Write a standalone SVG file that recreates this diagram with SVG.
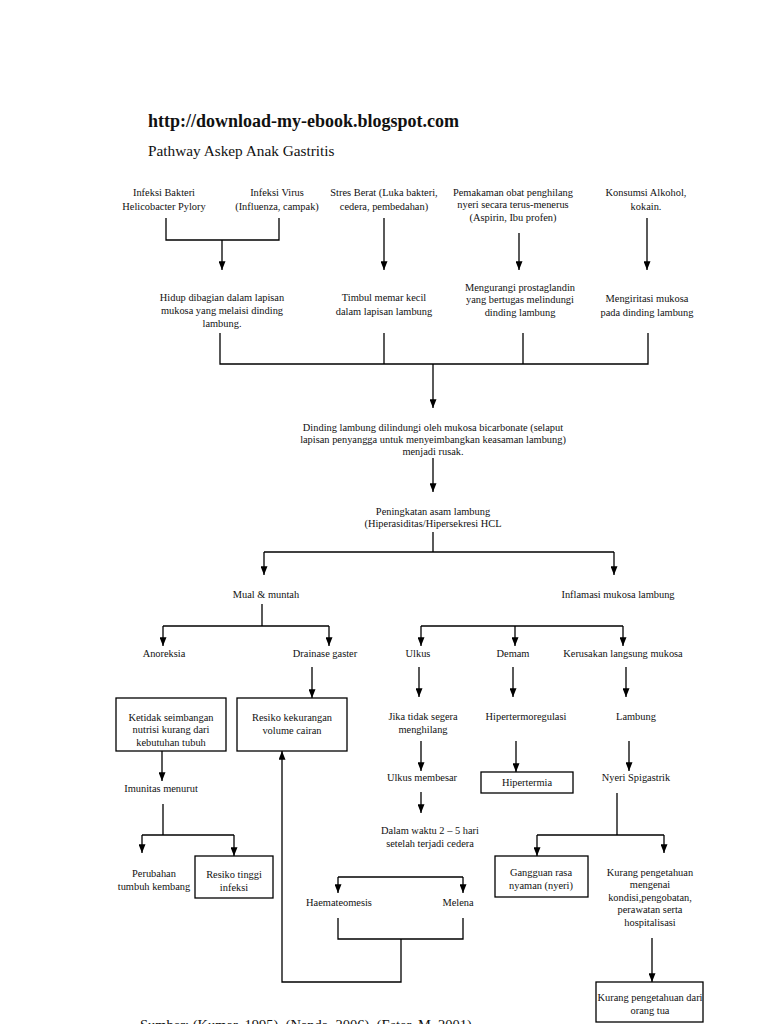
<svg xmlns="http://www.w3.org/2000/svg" width="768" height="1024" viewBox="0 0 768 1024">
<style>
text{font-family:"Liberation Serif","Times New Roman",serif;fill:#111}
.t{font-size:10.4px;text-anchor:middle}
.c path{fill:none;stroke:#000;stroke-width:1.3}
.c path.a{marker-end:url(#ah)}
rect{fill:#fff;stroke:#000;stroke-width:1.3}
</style>
<defs>
<marker id="ah" viewBox="0 0 10 8" refX="10" refY="4" markerWidth="9" markerHeight="7" markerUnits="userSpaceOnUse" orient="auto">
<path d="M0,0 L10,4 L0,8 z" fill="#000"/>
</marker>
</defs>
<rect x="0" y="0" width="768" height="1024" style="stroke:none;fill:#fff"/>
<g id="title">
<text x="148" y="127" style="font-size:18px;font-weight:bold">http://download-my-ebook.blogspot.com</text>
<text x="148" y="156" style="font-size:15.3px">Pathway Askep Anak Gastritis</text>
</g>
<g id="n-bakteri"><text class="t" x="164" y="195.5">Infeksi Bakteri</text><text class="t" x="164" y="209.5">Helicobacter Pylory</text></g>
<g id="n-virus"><text class="t" x="277" y="195.5">Infeksi Virus</text><text class="t" x="277" y="209.5">(Influenza, campak)</text></g>
<g id="n-stres"><text class="t" x="384" y="195.5">Stres Berat (Luka bakteri,</text><text class="t" x="384" y="209.5">cedera, pembedahan)</text></g>
<g id="n-obat"><text class="t" x="513" y="195.5">Pemakaman obat penghilang</text><text class="t" x="513" y="207.5">nyeri secara terus-menerus</text><text class="t" x="513" y="220.5">(Aspirin, Ibu profen)</text></g>
<g id="n-alkohol"><text class="t" x="646" y="195.5">Konsumsi Alkohol,</text><text class="t" x="646" y="209.5">kokain.</text></g>
<g id="n-hidup"><text class="t" x="222" y="300.5">Hidup dibagian dalam lapisan</text><text class="t" x="222" y="313.5">mukosa yang melaisi dinding</text><text class="t" x="222" y="326.5">lambung.</text></g>
<g id="n-timbul"><text class="t" x="384" y="300.5">Timbul memar kecil</text><text class="t" x="384" y="314.5">dalam lapisan lambung</text></g>
<g id="n-prosta"><text class="t" x="520" y="290.5">Mengurangi prostaglandin</text><text class="t" x="520" y="302.5">yang bertugas melindungi</text><text class="t" x="520" y="315.5">dinding lambung</text></g>
<g id="n-iritasi"><text class="t" x="647" y="301.5">Mengiritasi mukosa</text><text class="t" x="647" y="315.5">pada dinding lambung</text></g>
<g id="n-dinding"><text class="t" x="433" y="430.5">Dinding lambung dilindungi oleh mukosa bicarbonate (selaput</text><text class="t" x="433" y="442.5">lapisan penyangga untuk menyeimbangkan keasaman lambung)</text><text class="t" x="433" y="454.5">menjadi rusak.</text></g>
<g id="n-asam"><text class="t" x="433" y="514.5">Peningkatan asam lambung</text><text class="t" x="433" y="526.5">(Hiperasiditas/Hipersekresi HCL</text></g>
<g id="n-mual"><text class="t" x="266" y="597.5">Mual &amp; muntah</text></g>
<g id="n-inflamasi"><text class="t" x="618" y="597.5">Inflamasi mukosa lambung</text></g>
<g id="n-anoreksia"><text class="t" x="164" y="656.5">Anoreksia</text></g>
<g id="n-drainase"><text class="t" x="325" y="656.5">Drainase gaster</text></g>
<g id="n-ulkus"><text class="t" x="418" y="656.5">Ulkus</text></g>
<g id="n-demam"><text class="t" x="513" y="656.5">Demam</text></g>
<g id="n-kerusakan"><text class="t" x="623" y="656.5">Kerusakan langsung mukosa</text></g>
<g id="n-nutrisi"><rect x="116" y="698" width="110" height="53"/><text class="t" x="171" y="720.5">Ketidak seimbangan</text><text class="t" x="171" y="733">nutrisi kurang dari</text><text class="t" x="171" y="745.5">kebutuhan tubuh</text></g>
<g id="n-cairan"><rect x="237" y="698" width="110" height="53"/><text class="t" x="292" y="720.5">Resiko kekurangan</text><text class="t" x="292" y="734">volume cairan</text></g>
<g id="n-jika"><text class="t" x="423" y="719.5">Jika tidak segera</text><text class="t" x="423" y="732.5">menghilang</text></g>
<g id="n-hiperreg"><text class="t" x="526" y="719.5">Hipertermoregulasi</text></g>
<g id="n-lambung"><text class="t" x="636" y="719.5">Lambung</text></g>
<g id="n-imunitas"><text class="t" x="161" y="791.5">Imunitas menurut</text></g>
<g id="n-membesar"><text class="t" x="422" y="780.5">Ulkus membesar</text></g>
<g id="n-hipertermia"><rect x="481" y="772" width="92" height="21"/><text class="t" x="527" y="786">Hipertermia</text></g>
<g id="n-nyeri"><text class="t" x="636" y="780.5">Nyeri Spigastrik</text></g>
<g id="n-waktu"><text class="t" x="430" y="833.5">Dalam waktu 2 – 5 hari</text><text class="t" x="430" y="846.5">setelah terjadi cedera</text></g>
<g id="n-tumbuh"><text class="t" x="154" y="876.5">Perubahan</text><text class="t" x="154" y="889.5">tumbuh kembang</text></g>
<g id="n-infeksi"><rect x="195" y="856" width="78" height="42"/><text class="t" x="234" y="877.5">Resiko tinggi</text><text class="t" x="234" y="890.5">infeksi</text></g>
<g id="n-haema"><text class="t" x="339" y="905.5">Haemateomesis</text></g>
<g id="n-melena"><text class="t" x="458" y="905.5">Melena</text></g>
<g id="n-gangguan"><rect x="495" y="856" width="93" height="41"/><text class="t" x="541" y="875.5">Gangguan rasa</text><text class="t" x="541" y="888.5">nyaman (nyeri)</text></g>
<g id="n-kurang"><text class="t" x="650" y="875.5">Kurang pengetahuan</text><text class="t" x="650" y="888">mengenai</text><text class="t" x="650" y="900.5">kondisi,pengobatan,</text><text class="t" x="650" y="913">perawatan serta</text><text class="t" x="650" y="925.5">hospitalisasi</text></g>
<g id="n-ortu"><rect x="596" y="982" width="107" height="40"/><text class="t" x="650" y="1000.5">Kurang pengetahuan dari</text><text class="t" x="650" y="1013.5">orang tua</text></g>
<g id="source"><text x="140" y="1030" style="font-size:14.5px">Sumber: (Kumar, 1995), (Nanda, 2006), (Ester, M. 2001)</text></g>
<g id="connectors" class="c">
<path d="M166,218 V240 H279 V218"/>
<path class="a" d="M222,240 V270"/>
<path class="a" d="M384,218 V270"/>
<path class="a" d="M519,233 V270"/>
<path class="a" d="M647,218 V270"/>
<path d="M220,333 V364 H648 V333"/>
<path d="M384,333 V364"/>
<path d="M523,333 V364"/>
<path class="a" d="M433,364 V408"/>
<path class="a" d="M433,458 V492"/>
<path d="M433,532 V552"/>
<path d="M264,552 H614"/>
<path class="a" d="M264,552 V575"/>
<path class="a" d="M614,552 V575"/>
<path d="M262,604 V626"/>
<path d="M163,626 H329"/>
<path class="a" d="M163,626 V646"/>
<path class="a" d="M329,626 V646"/>
<path d="M421,626 H623"/>
<path class="a" d="M421,626 V646"/>
<path class="a" d="M515,626 V646"/>
<path class="a" d="M623,626 V646"/>
<path class="a" d="M312,667 V698"/>
<path class="a" d="M419,667 V697"/>
<path class="a" d="M513,667 V697"/>
<path class="a" d="M626,667 V697"/>
<path class="a" d="M162,751 V781"/>
<path d="M163,804 V835"/>
<path d="M142,835 H234"/>
<path class="a" d="M142,835 V853"/>
<path class="a" d="M234,835 V856"/>
<path class="a" d="M421,741 V771"/>
<path class="a" d="M421,792 V813"/>
<path class="a" d="M516,741 V772"/>
<path class="a" d="M629,741 V771"/>
<path d="M617,793 V835"/>
<path d="M537,835 H664"/>
<path class="a" d="M537,835 V856"/>
<path class="a" d="M664,835 V853"/>
<path class="a" d="M652,938 V982"/>
<path d="M338,877 H463"/>
<path class="a" d="M338,877 V893"/>
<path class="a" d="M463,877 V893"/>
<path d="M338,918 V939 H463 V918"/>
<path class="a" d="M401,939 V982 H282 V751"/>
</g>
</svg>
